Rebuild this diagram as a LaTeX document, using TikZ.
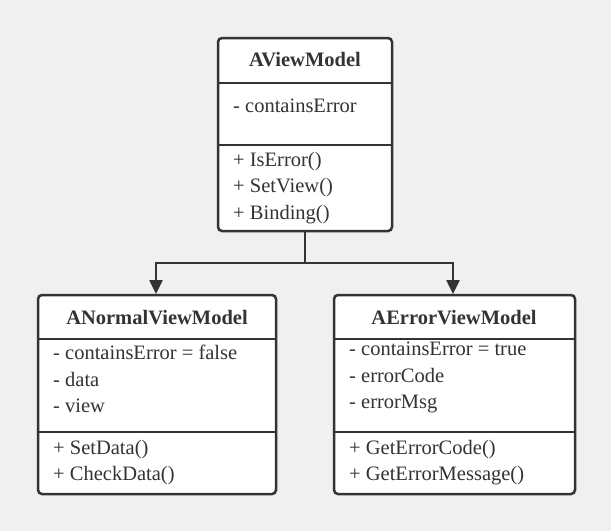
\documentclass[tikz,border=0pt]{standalone}
\usepackage{fontspec}
\setmainfont{Liberation Serif}
\usetikzlibrary{arrows.meta}
\definecolor{ln}{HTML}{333333}
\begin{document}
\begin{tikzpicture}[x=1pt,y=-1pt,
 box/.style={draw=ln,line width=2.5pt,rounded corners=4pt,fill=white},
 sep/.style={draw=ln,line width=2.5pt},
 ttl/.style={font=\fontsize{20.5}{22}\selectfont\bfseries,text=ln},
 txt/.style={font=\fontsize{20.5}{26.5}\selectfont,text=ln,anchor=north west,align=left,inner sep=0pt},
 conn/.style={draw=ln,line width=2.5pt,-{Triangle[length=14pt,width=13pt]}}]
\fill[white!94!black] (0,0) rectangle (611,531);
% top
\draw[box] (218,38) rectangle (392,231);
\draw[sep] (218,83) -- (392,83); \draw[sep] (218,145) -- (392,145);
\node[ttl] (t) at (305,60) {AViewModel};
\node[txt] (ta) at (233,99) {- containsError};
\node[txt] (tm) at (233,152) {+ IsError()\\+ SetView()\\+ Binding()};
% left
\draw[box] (38,295) rectangle (276,494);
\draw[sep] (38,339) -- (276,339); \draw[sep] (38,432) -- (276,432);
\node[ttl] (l) at (157,318) {ANormalViewModel};
\node[txt] (la) at (53,345) {- containsError = false\\- data\\- view};
\node[txt] (lm) at (53,440) {+ SetData()\\+ CheckData()};
% right
\draw[box] (334,295) rectangle (575,494);
\draw[sep] (334,339) -- (575,339); \draw[sep] (334,432) -- (575,432);
\node[ttl] (r) at (454,318) {AErrorViewModel};
\node[txt] (ra) at (349,342) {- containsError = true\\- errorCode\\- errorMsg};
\node[txt] (rm) at (349,440) {+ GetErrorCode()\\+ GetErrorMessage()};
% connectors
\coordinate (top) at (305,232);
\coordinate (j) at (305,263);
\coordinate (lt) at (156,294);
\coordinate (rt) at (453,294);
\draw[sep] (top) -- (j);
\draw[conn] (j) -| (lt);
\draw[conn] (j) -| (rt);
\end{tikzpicture}
\end{document}
